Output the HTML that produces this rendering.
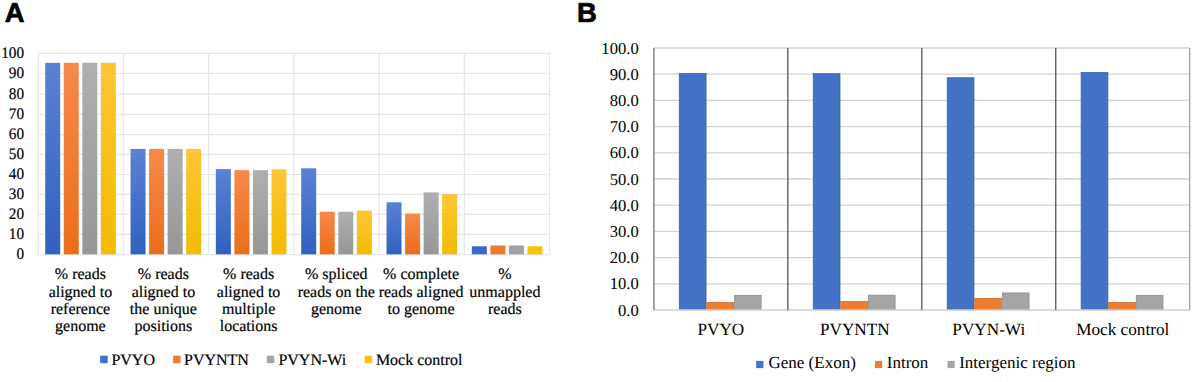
<!DOCTYPE html><html><head><meta charset="utf-8"><style>html,body{margin:0;padding:0;background:#fff;width:1200px;height:382px;overflow:hidden}svg{display:block}text{font-family:"Liberation Serif",serif;fill:#000;stroke:#000;stroke-width:0.18px;text-rendering:geometricPrecision}.nb{stroke:none}.lbl{font-family:"Liberation Sans",sans-serif;font-weight:bold;stroke:#000;stroke-width:0.7px}</style></head><body>
<svg width="1200" height="382" viewBox="0 0 1200 382">
<defs>
<linearGradient id="gb" x1="0" y1="0" x2="0" y2="1" gradientUnits="objectBoundingBox"><stop offset="0" stop-color="#5b82d3"/><stop offset="1" stop-color="#2f61c0"/></linearGradient>
<linearGradient id="go" x1="0" y1="0" x2="0" y2="1" gradientUnits="objectBoundingBox"><stop offset="0" stop-color="#f68a4c"/><stop offset="1" stop-color="#ec6d18"/></linearGradient>
<linearGradient id="gg" x1="0" y1="0" x2="0" y2="1" gradientUnits="objectBoundingBox"><stop offset="0" stop-color="#afafb2"/><stop offset="1" stop-color="#979797"/></linearGradient>
<linearGradient id="gy" x1="0" y1="0" x2="0" y2="1" gradientUnits="objectBoundingBox"><stop offset="0" stop-color="#fdc636"/><stop offset="1" stop-color="#f3bb00"/></linearGradient>
</defs>
<text class="lbl" x="4.8" y="21.6" font-size="27.4">A</text>
<text class="lbl" x="576.9" y="21.6" font-size="27.4">B</text>
<line x1="38.3" x2="549.5" y1="254.60" y2="254.60" stroke="#e6e6ea" stroke-width="1.2"/>
<line x1="38.3" x2="549.5" y1="234.40" y2="234.40" stroke="#e6e6ea" stroke-width="1.2"/>
<line x1="38.3" x2="549.5" y1="214.30" y2="214.30" stroke="#e6e6ea" stroke-width="1.2"/>
<line x1="38.3" x2="549.5" y1="194.40" y2="194.40" stroke="#e6e6ea" stroke-width="1.2"/>
<line x1="38.3" x2="549.5" y1="174.50" y2="174.50" stroke="#e6e6ea" stroke-width="1.2"/>
<line x1="38.3" x2="549.5" y1="154.40" y2="154.40" stroke="#e6e6ea" stroke-width="1.2"/>
<line x1="38.3" x2="549.5" y1="134.60" y2="134.60" stroke="#e6e6ea" stroke-width="1.2"/>
<line x1="38.3" x2="549.5" y1="114.40" y2="114.40" stroke="#e6e6ea" stroke-width="1.2"/>
<line x1="38.3" x2="549.5" y1="94.20" y2="94.20" stroke="#e6e6ea" stroke-width="1.2"/>
<line x1="38.3" x2="549.5" y1="73.40" y2="73.40" stroke="#e6e6ea" stroke-width="1.2"/>
<line x1="38.3" x2="549.5" y1="53.40" y2="53.40" stroke="#e6e6ea" stroke-width="1.2"/>
<line x1="38.30" x2="38.30" y1="53.4" y2="254.6" stroke="#e6e6ea" stroke-width="1.2"/>
<line x1="123.50" x2="123.50" y1="53.4" y2="254.6" stroke="#e6e6ea" stroke-width="1.2"/>
<line x1="208.70" x2="208.70" y1="53.4" y2="254.6" stroke="#e6e6ea" stroke-width="1.2"/>
<line x1="293.90" x2="293.90" y1="53.4" y2="254.6" stroke="#e6e6ea" stroke-width="1.2"/>
<line x1="379.10" x2="379.10" y1="53.4" y2="254.6" stroke="#e6e6ea" stroke-width="1.2"/>
<line x1="464.30" x2="464.30" y1="53.4" y2="254.6" stroke="#e6e6ea" stroke-width="1.2"/>
<line x1="549.50" x2="549.50" y1="53.4" y2="254.6" stroke="#e6e6ea" stroke-width="1.2"/>
<text transform="translate(24.0 0) scale(0.95 1)" x="0" y="259.30" font-size="16" text-anchor="end">0</text>
<text transform="translate(24.0 0) scale(0.95 1)" x="0" y="239.10" font-size="16" text-anchor="end">10</text>
<text transform="translate(24.0 0) scale(0.95 1)" x="0" y="219.00" font-size="16" text-anchor="end">20</text>
<text transform="translate(24.0 0) scale(0.95 1)" x="0" y="199.10" font-size="16" text-anchor="end">30</text>
<text transform="translate(24.0 0) scale(0.95 1)" x="0" y="179.20" font-size="16" text-anchor="end">40</text>
<text transform="translate(24.0 0) scale(0.95 1)" x="0" y="159.10" font-size="16" text-anchor="end">50</text>
<text transform="translate(24.0 0) scale(0.95 1)" x="0" y="139.30" font-size="16" text-anchor="end">60</text>
<text transform="translate(24.0 0) scale(0.95 1)" x="0" y="119.10" font-size="16" text-anchor="end">70</text>
<text transform="translate(24.0 0) scale(0.95 1)" x="0" y="98.90" font-size="16" text-anchor="end">80</text>
<text transform="translate(24.0 0) scale(0.95 1)" x="0" y="78.10" font-size="16" text-anchor="end">90</text>
<text transform="translate(24.0 0) scale(0.95 1)" x="0" y="58.10" font-size="16" text-anchor="end">100</text>
<rect x="45.20" y="62.80" width="15.0" height="191.50" fill="url(#gb)"/>
<rect x="63.75" y="62.80" width="15.0" height="191.50" fill="url(#go)"/>
<rect x="82.30" y="62.80" width="15.0" height="191.50" fill="url(#gg)"/>
<rect x="100.85" y="62.80" width="15.0" height="191.50" fill="url(#gy)"/>
<rect x="130.53" y="148.90" width="15.0" height="105.40" fill="url(#gb)"/>
<rect x="149.08" y="148.90" width="15.0" height="105.40" fill="url(#go)"/>
<rect x="167.63" y="148.90" width="15.0" height="105.40" fill="url(#gg)"/>
<rect x="186.18" y="148.90" width="15.0" height="105.40" fill="url(#gy)"/>
<rect x="215.86" y="169.11" width="15.0" height="85.19" fill="url(#gb)"/>
<rect x="234.41" y="170.12" width="15.0" height="84.18" fill="url(#go)"/>
<rect x="252.96" y="170.12" width="15.0" height="84.18" fill="url(#gg)"/>
<rect x="271.51" y="169.31" width="15.0" height="84.99" fill="url(#gy)"/>
<rect x="301.19" y="168.30" width="15.0" height="86.00" fill="url(#gb)"/>
<rect x="319.74" y="211.75" width="15.0" height="42.55" fill="url(#go)"/>
<rect x="338.29" y="211.75" width="15.0" height="42.55" fill="url(#gg)"/>
<rect x="356.84" y="210.54" width="15.0" height="43.76" fill="url(#gy)"/>
<rect x="386.52" y="202.25" width="15.0" height="52.05" fill="url(#gb)"/>
<rect x="405.07" y="213.57" width="15.0" height="40.73" fill="url(#go)"/>
<rect x="423.62" y="192.35" width="15.0" height="61.95" fill="url(#gg)"/>
<rect x="442.17" y="194.17" width="15.0" height="60.13" fill="url(#gy)"/>
<rect x="471.85" y="246.31" width="15.0" height="7.99" fill="#3d67cc"/>
<rect x="490.40" y="245.50" width="15.0" height="8.80" fill="#f07a2c"/>
<rect x="508.95" y="245.50" width="15.0" height="8.80" fill="#a3a3a6"/>
<rect x="527.50" y="246.31" width="15.0" height="7.99" fill="#fbc20a"/>
<text x="80.40" y="279.40" font-size="16" text-anchor="middle">% reads</text>
<text x="80.40" y="296.75" font-size="16" text-anchor="middle">aligned to</text>
<text x="80.40" y="314.10" font-size="16" text-anchor="middle">reference</text>
<text x="80.40" y="331.45" font-size="16" text-anchor="middle">genome</text>
<text x="163.40" y="279.40" font-size="16" text-anchor="middle">% reads</text>
<text x="163.40" y="296.75" font-size="16" text-anchor="middle">aligned to</text>
<text x="163.40" y="314.10" font-size="16" text-anchor="middle">the unique</text>
<text x="163.40" y="331.45" font-size="16" text-anchor="middle">positions</text>
<text x="248.60" y="279.40" font-size="16" text-anchor="middle">% reads</text>
<text x="248.60" y="296.75" font-size="16" text-anchor="middle">aligned to</text>
<text x="248.60" y="314.10" font-size="16" text-anchor="middle">multiple</text>
<text x="248.60" y="331.45" font-size="16" text-anchor="middle">locations</text>
<text x="336.30" y="279.40" font-size="16" text-anchor="middle">% spliced</text>
<text x="336.30" y="296.75" font-size="16" text-anchor="middle">reads on the</text>
<text x="336.30" y="314.10" font-size="16" text-anchor="middle">genome</text>
<text x="421.10" y="279.40" font-size="16" text-anchor="middle">% complete</text>
<text x="421.10" y="296.75" font-size="16" text-anchor="middle">reads aligned</text>
<text x="421.10" y="314.10" font-size="16" text-anchor="middle">to genome</text>
<text x="504.90" y="279.40" font-size="16" text-anchor="middle">%</text>
<text x="504.90" y="296.75" font-size="16" text-anchor="middle">unmappled</text>
<text x="504.90" y="314.10" font-size="16" text-anchor="middle">reads</text>
<rect x="100.2" y="355.7" width="7.5" height="7.5" fill="#3f6fd0"/>
<text x="111.4" y="364.5" font-size="16">PVYO</text>
<rect x="173.1" y="355.7" width="7.5" height="7.5" fill="#f07a30"/>
<text x="184" y="364.5" font-size="16">PVYNTN</text>
<rect x="266.8" y="355.7" width="7.5" height="7.5" fill="#a5a5a5"/>
<text x="278.4" y="364.5" font-size="16">PVYN-Wi</text>
<rect x="364.6" y="355.7" width="7.5" height="7.5" fill="#fcc010"/>
<text x="375.9" y="364.5" font-size="16">Mock control</text>
<line x1="653.9" x2="1189.6999999999998" y1="283.80" y2="283.80" stroke="#d3d3d3" stroke-width="1.3"/>
<line x1="653.9" x2="1189.6999999999998" y1="257.60" y2="257.60" stroke="#d3d3d3" stroke-width="1.3"/>
<line x1="653.9" x2="1189.6999999999998" y1="231.40" y2="231.40" stroke="#d3d3d3" stroke-width="1.3"/>
<line x1="653.9" x2="1189.6999999999998" y1="205.20" y2="205.20" stroke="#d3d3d3" stroke-width="1.3"/>
<line x1="653.9" x2="1189.6999999999998" y1="179.00" y2="179.00" stroke="#d3d3d3" stroke-width="1.3"/>
<line x1="653.9" x2="1189.6999999999998" y1="152.80" y2="152.80" stroke="#d3d3d3" stroke-width="1.3"/>
<line x1="653.9" x2="1189.6999999999998" y1="126.60" y2="126.60" stroke="#d3d3d3" stroke-width="1.3"/>
<line x1="653.9" x2="1189.6999999999998" y1="100.40" y2="100.40" stroke="#d3d3d3" stroke-width="1.3"/>
<line x1="653.9" x2="1189.6999999999998" y1="74.20" y2="74.20" stroke="#d3d3d3" stroke-width="1.3"/>
<line x1="653.9" x2="1189.6999999999998" y1="48.00" y2="48.00" stroke="#d3d3d3" stroke-width="1.3"/>
<rect x="679.30" y="73.55" width="26.75" height="236.05" fill="#4472c4" stroke="#3a63ad" stroke-width="0.8"/>
<rect x="706.85" y="302.41" width="26.75" height="7.19" fill="#ed7d31" stroke="#d8712c" stroke-width="0.8"/>
<rect x="734.40" y="295.31" width="26.75" height="14.29" fill="#a5a5a5" stroke="#8f8f8f" stroke-width="0.8"/>
<rect x="813.25" y="73.68" width="26.75" height="235.92" fill="#4472c4" stroke="#3a63ad" stroke-width="0.8"/>
<rect x="840.80" y="301.39" width="26.75" height="8.21" fill="#ed7d31" stroke="#d8712c" stroke-width="0.8"/>
<rect x="868.35" y="295.15" width="26.75" height="14.45" fill="#a5a5a5" stroke="#8f8f8f" stroke-width="0.8"/>
<rect x="947.20" y="77.74" width="26.75" height="231.86" fill="#4472c4" stroke="#3a63ad" stroke-width="0.8"/>
<rect x="974.75" y="298.40" width="26.75" height="11.20" fill="#ed7d31" stroke="#d8712c" stroke-width="0.8"/>
<rect x="1002.30" y="292.90" width="26.75" height="16.70" fill="#a5a5a5" stroke="#8f8f8f" stroke-width="0.8"/>
<rect x="1081.15" y="72.50" width="26.75" height="237.10" fill="#4472c4" stroke="#3a63ad" stroke-width="0.8"/>
<rect x="1108.70" y="302.41" width="26.75" height="7.19" fill="#ed7d31" stroke="#d8712c" stroke-width="0.8"/>
<rect x="1136.25" y="295.31" width="26.75" height="14.29" fill="#a5a5a5" stroke="#8f8f8f" stroke-width="0.8"/>
<line x1="653.9" x2="1189.6999999999998" y1="310.0" y2="310.0" stroke="#cfcfcf" stroke-width="1.4"/>
<line x1="653.9" x2="653.9" y1="48.0" y2="310.0" stroke="#8f8f8f" stroke-width="1.6"/>
<line x1="787.85" x2="787.85" y1="48.0" y2="310.0" stroke="#555555" stroke-width="1.3"/>
<line x1="921.80" x2="921.80" y1="48.0" y2="310.0" stroke="#555555" stroke-width="1.3"/>
<line x1="1055.75" x2="1055.75" y1="48.0" y2="310.0" stroke="#555555" stroke-width="1.3"/>
<line x1="1189.70" x2="1189.70" y1="48.0" y2="310.0" stroke="#9a9a9a" stroke-width="1.2"/>
<text x="638.7" y="315.60" font-size="16.6" text-anchor="end" class="nb">0.0</text>
<text x="638.7" y="289.40" font-size="16.6" text-anchor="end" class="nb">10.0</text>
<text x="638.7" y="263.20" font-size="16.6" text-anchor="end" class="nb">20.0</text>
<text x="638.7" y="237.00" font-size="16.6" text-anchor="end" class="nb">30.0</text>
<text x="638.7" y="210.80" font-size="16.6" text-anchor="end" class="nb">40.0</text>
<text x="638.7" y="184.60" font-size="16.6" text-anchor="end" class="nb">50.0</text>
<text x="638.7" y="158.40" font-size="16.6" text-anchor="end" class="nb">60.0</text>
<text x="638.7" y="132.20" font-size="16.6" text-anchor="end" class="nb">70.0</text>
<text x="638.7" y="106.00" font-size="16.6" text-anchor="end" class="nb">80.0</text>
<text x="638.7" y="79.80" font-size="16.6" text-anchor="end" class="nb">90.0</text>
<text x="638.7" y="53.60" font-size="16.6" text-anchor="end" class="nb">100.0</text>
<text x="720.88" y="335.2" font-size="17.2" text-anchor="middle" class="nb">PVYO</text>
<text x="854.82" y="335.2" font-size="17.2" text-anchor="middle" class="nb">PVYNTN</text>
<text x="988.77" y="335.2" font-size="17.2" text-anchor="middle" class="nb">PVYN-Wi</text>
<text x="1122.72" y="335.2" font-size="17.2" text-anchor="middle" class="nb">Mock control</text>
<rect x="756.2" y="360.9" width="7.2" height="7.2" fill="#4472c4"/>
<text x="768.5" y="368.4" font-size="17.0" class="nb">Gene (Exon)</text>
<rect x="875.0" y="360.9" width="7.2" height="7.2" fill="#ed7d31"/>
<text x="886.8" y="368.4" font-size="17.0" class="nb">Intron</text>
<rect x="947.5" y="360.9" width="7.2" height="7.2" fill="#a5a5a5"/>
<text x="959.2" y="368.4" font-size="17.0" class="nb">Intergenic region</text>
</svg></body></html>
